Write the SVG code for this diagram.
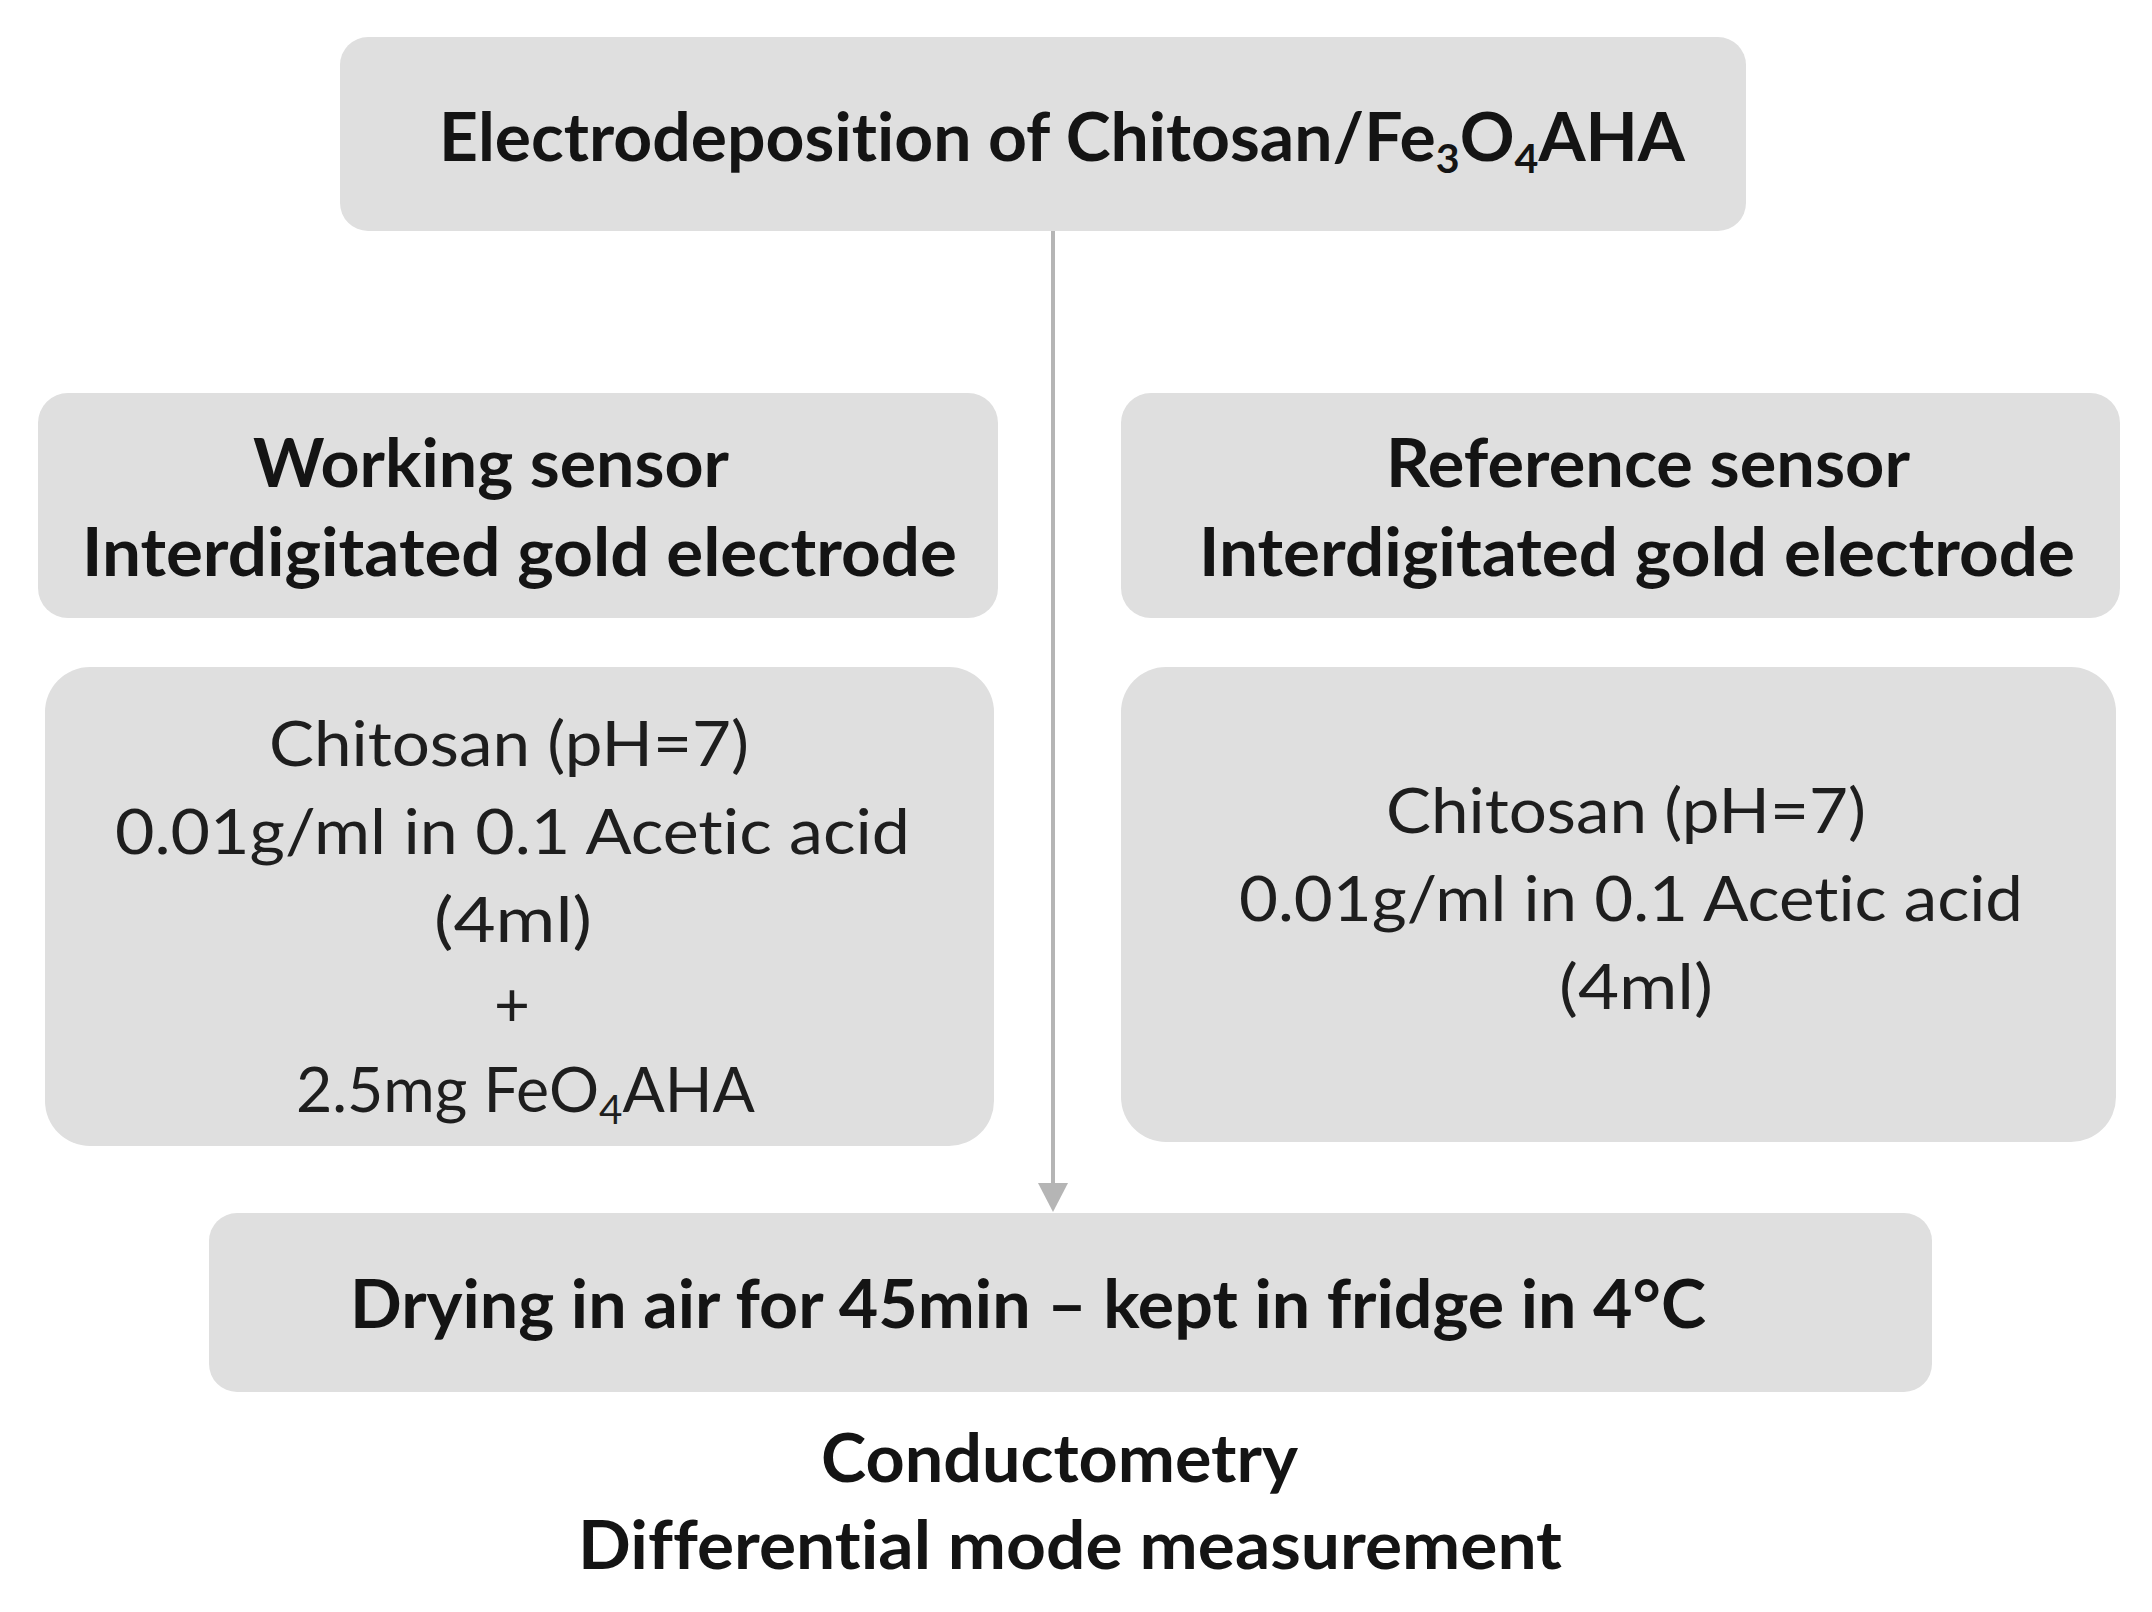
<svg xmlns="http://www.w3.org/2000/svg" width="2152" height="1612" viewBox="0 0 2152 1612">
<style>
.box{fill:#dfdfdf;}
.b{font-family:Lato,"Open Sans","Liberation Sans",sans-serif;font-weight:700;font-size:66px;fill:#141414;font-variant-ligatures:none;}
.r{font-family:Lato,"Open Sans","Liberation Sans",sans-serif;font-weight:400;font-size:62px;fill:#1e1e1e;font-variant-ligatures:none;}
.sub{font-size:40px;}
.conn{stroke:#b5b5b5;stroke-width:4;fill:none;}
</style>
<rect width="2152" height="1612" fill="#ffffff"/>
<g id="connectors">
<line class="conn" x1="1053" y1="231" x2="1053" y2="1186"/>
<path d="M1038,1183 L1068,1183 L1053,1212 z" fill="#b5b5b5"/>
</g>
<g id="top">
<rect class="box" x="340" y="37" width="1406" height="194" rx="28"/>
<text class="b" x="439" y="161" textLength="1246" lengthAdjust="spacingAndGlyphs">Electrodeposition of Chitosan/Fe<tspan class="sub" dy="12">3</tspan><tspan dy="-12">O</tspan><tspan class="sub" dy="12">4</tspan><tspan dy="-12">AHA</tspan></text>
</g>
<g id="working">
<rect class="box" x="38" y="393" width="960" height="225" rx="30"/>
<text class="b" x="253" y="487" textLength="476" lengthAdjust="spacingAndGlyphs">Working sensor</text>
<text class="b" x="82" y="576" textLength="875" lengthAdjust="spacingAndGlyphs">Interdigitated gold electrode</text>
</g>
<g id="reference">
<rect class="box" x="1121" y="393" width="999" height="225" rx="30"/>
<text class="b" x="1386" y="487" textLength="524" lengthAdjust="spacingAndGlyphs">Reference sensor</text>
<text class="b" x="1199" y="576" textLength="876" lengthAdjust="spacingAndGlyphs">Interdigitated gold electrode</text>
</g>
<g id="working-recipe">
<rect class="box" x="45" y="667" width="949" height="479" rx="45"/>
<text class="r" x="269" y="766" textLength="480" lengthAdjust="spacingAndGlyphs">Chitosan (pH=7)</text>
<text class="r" x="115" y="854" textLength="795" lengthAdjust="spacingAndGlyphs">0.01g/ml in 0.1 Acetic acid</text>
<text class="r" x="434" y="942" textLength="158" lengthAdjust="spacingAndGlyphs">(4ml)</text>
<text class="r" x="512" y="1026" text-anchor="middle" font-size="56">+</text>
<text class="r" x="296" y="1112" textLength="459" lengthAdjust="spacingAndGlyphs">2.5mg FeO<tspan class="sub" dy="12">4</tspan><tspan dy="-12">AHA</tspan></text>
</g>
<g id="reference-recipe">
<rect class="box" x="1121" y="667" width="995" height="475" rx="45"/>
<text class="r" x="1386" y="833" textLength="480" lengthAdjust="spacingAndGlyphs">Chitosan (pH=7)</text>
<text class="r" x="1239" y="921" textLength="784" lengthAdjust="spacingAndGlyphs">0.01g/ml in 0.1 Acetic acid</text>
<text class="r" x="1559" y="1009" textLength="154" lengthAdjust="spacingAndGlyphs">(4ml)</text>
</g>
<g id="drying">
<rect class="box" x="209" y="1213" width="1723" height="179" rx="28"/>
<text class="b" x="350" y="1328" textLength="1356" lengthAdjust="spacingAndGlyphs">Drying in air for 45min – kept in fridge in 4°C</text>
</g>
<g id="measurement">
<text class="b" x="821" y="1482" textLength="477" lengthAdjust="spacingAndGlyphs">Conductometry</text>
<text class="b" x="578" y="1569" textLength="984" lengthAdjust="spacingAndGlyphs">Differential mode measurement</text>
</g>
</svg>
